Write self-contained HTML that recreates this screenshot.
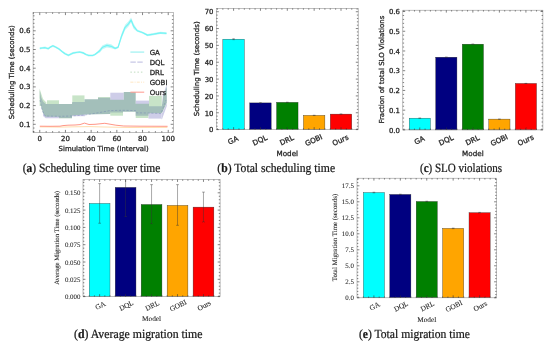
<!DOCTYPE html>
<html><head><meta charset="utf-8"><title>Figure</title>
<style>html,body{margin:0;padding:0;background:#fff;}svg{display:block;}text{text-rendering:geometricPrecision;font-variant-ligatures:none;font-kerning:normal;}text.t{stroke:#262626;stroke-width:0.28px;}text.s{stroke:#2a2a2a;stroke-width:0.08px;}text{stroke:#1a1a1a;stroke-width:0.24px;}</style>
</head><body>
<svg width="550" height="347" viewBox="0 0 550 347">
<defs><filter id="soft" x="0" y="0" width="550" height="347" filterUnits="userSpaceOnUse"><feGaussianBlur stdDeviation="0.42"/></filter></defs>
<rect width="550" height="347" fill="#fff"/>
<g filter="url(#soft)">
<rect width="550" height="347" fill="#fff"/>
<polygon points="39.8,47.3 42.0,46.9 45.1,46.6 48.2,47.6 50.5,45.9 52.9,44.7 55.5,45.9 58.9,47.8 62.0,50.4 65.0,52.6 68.4,54.2 72.8,52.1 76.0,51.4 79.7,50.9 83.1,51.8 86.0,53.4 88.3,54.2 92.6,54.4 95.0,53.4 97.8,51.2 100.0,48.5 102.6,45.2 106.9,43.4 111.2,44.3 115.2,47.3 118.1,46.1 121.6,33.3 125.1,24.7 128.5,21.2 131.1,17.4 133.7,23.8 137.2,29.6 142.3,31.4 147.5,34.0 153.6,33.1 160.5,31.7 166.5,32.2 166.5,34.4 160.5,33.9 153.6,35.3 147.5,36.2 142.3,33.6 137.2,31.8 133.7,29.0 131.1,22.6 128.5,26.4 125.1,29.9 121.6,38.5 118.1,48.3 115.2,49.5 111.2,48.3 106.9,47.4 102.6,49.2 100.0,52.5 97.8,53.4 95.0,55.6 92.6,56.6 88.3,56.4 86.0,55.6 83.1,54.0 79.7,53.1 76.0,53.6 72.8,54.3 68.4,56.4 65.0,54.8 62.0,52.6 58.9,50.0 55.5,48.1 52.9,46.9 50.5,48.1 48.2,49.8 45.1,48.8 42.0,49.1 39.8,49.5" fill="#c4f7f7" fill-opacity="1.0"/>
<polygon points="39.6,88.5 41.0,93.0 43.0,99.0 46.4,102.5 46.4,106.0 39.6,106.0" fill="#c8e4c8" fill-opacity="1.0"/>
<polygon points="47.0,100.3 59.0,100.3 59.0,110.0 47.0,110.0" fill="#c8e4c8" fill-opacity="1.0"/>
<polygon points="72.3,95.4 84.5,95.4 84.5,105.0 72.3,105.0" fill="#c8e4c8" fill-opacity="1.0"/>
<polygon points="98.0,97.1 110.3,97.1 110.3,104.0 98.0,104.0" fill="#c8e4c8" fill-opacity="1.0"/>
<polygon points="149.0,95.9 161.8,95.9 161.8,108.0 149.0,108.0" fill="#c8e4c8" fill-opacity="1.0"/>
<polygon points="110.3,92.7 123.8,92.7 123.8,101.0 110.3,101.0" fill="#cecde8" fill-opacity="1.0"/>
<polygon points="135.7,100.6 149.0,100.6 149.0,106.0 135.7,106.0" fill="#cecde8" fill-opacity="1.0"/>
<polygon points="162.6,96.0 166.8,84.3 166.8,90.0 162.6,104.0" fill="#cecde8" fill-opacity="1.0"/>
<polygon points="161.5,114.0 162.6,112.5 166.8,103.0 166.8,106.0 162.0,119.3 161.5,119.3" fill="#cecde8" fill-opacity="1.0"/>
<polygon points="43.0,110.0 45.7,113.0 59.0,113.0 59.0,118.3 45.7,118.3 43.0,116.0" fill="#cecde8" fill-opacity="1.0"/>
<polygon points="59.0,113.0 72.0,113.0 72.0,118.3 59.0,118.3" fill="#b2cdbd" fill-opacity="1.0"/>
<polygon points="72.0,112.0 85.0,112.0 85.0,116.2 72.0,116.2" fill="#cecde8" fill-opacity="1.0"/>
<polygon points="110.3,110.0 123.0,110.0 123.0,115.7 110.3,115.7" fill="#c8e4c8" fill-opacity="1.0"/>
<polygon points="135.7,112.0 148.5,112.0 148.5,118.0 135.7,118.0" fill="#c8e4c8" fill-opacity="1.0"/>
<polygon points="148.5,112.0 161.5,112.0 161.5,118.6 148.5,118.6" fill="#cecde8" fill-opacity="1.0"/>
<polygon points="39.8,90.3 41.0,97.0 43.0,101.5 45.7,104.1 72.0,104.1 72.3,101.9 84.5,101.9 84.5,99.2 98.0,99.2 98.0,97.8 110.3,97.8 110.3,99.8 123.8,99.8 123.8,91.9 135.7,91.9 135.7,103.8 149.0,103.8 149.0,106.2 161.8,106.2 163.2,96.5 166.8,86.8 166.8,102.7 162.3,112.4 161.5,113.2 148.5,113.2 148.5,115.7 135.7,115.7 135.7,111.7 123.0,111.7 123.0,112.5 110.3,112.5 110.3,114.1 98.0,114.3 85.0,114.5 72.0,115.6 72.0,118.0 59.0,118.0 59.0,116.7 45.7,116.7 43.0,113.0 41.0,106.0 39.8,98.0" fill="#a3bfba" fill-opacity="1.0"/>
<polyline points="40.0,100.0 42.0,110.0 45.0,116.0 60.0,116.3 72.0,116.0 85.0,115.0 98.0,112.8 110.0,110.6 123.0,110.3 135.5,110.6 136.0,112.8 148.0,113.0 161.0,113.6 166.0,100.0" fill="none" stroke="#6676b0" stroke-width="0.55" stroke-linejoin="round" stroke-dasharray="2.2,1.6" stroke-opacity="0.7"/>
<polyline points="39.8,126.9 60.0,127.1 75.0,126.8 90.0,126.6 100.0,126.9 130.0,127.5 167.4,127.4" fill="none" stroke="#ffd49a" stroke-width="0.8" stroke-linejoin="round" />
<polyline points="39.8,126.2 50.0,126.3 60.0,126.2 63.0,125.6 68.0,125.2 75.0,125.0 80.0,124.6 83.0,123.6 84.5,123.1 86.0,123.6 89.0,124.5 95.0,124.3 100.0,123.8 104.8,123.3 110.0,124.2 115.9,125.2 123.8,126.0 140.0,126.2 167.6,126.3" fill="none" stroke="#ff8a78" stroke-width="0.9" stroke-linejoin="round" />
<polyline points="39.8,48.4 42.0,48.0 45.1,47.7 48.2,48.7 50.5,47.0 52.9,45.8 55.5,47.0 58.9,48.9 62.0,51.5 65.0,53.7 68.4,55.3 72.8,53.2 76.0,52.5 79.7,52.0 83.1,52.9 86.0,54.5 88.3,55.3 92.6,55.5 95.0,54.5 97.8,52.3 100.0,50.5 102.6,47.2 106.9,45.4 111.2,46.3 115.2,48.4 118.1,47.2 121.6,35.9 125.1,27.3 128.5,23.8 131.1,20.0 133.7,26.4 137.2,30.7 142.3,32.5 147.5,35.1 153.6,34.2 160.5,32.8 166.5,33.3" fill="none" stroke="#74f5f5" stroke-width="1.2" stroke-linejoin="round" />
<rect x="33.1" y="12.5" width="140.20" height="120.00" fill="none" stroke="#8a8a8a" stroke-width="0.55"/>
<path d="M39.76 132.50v-2.6M39.76 12.50v2.6M65.45 132.50v-2.6M65.45 12.50v2.6M91.15 132.50v-2.6M91.15 12.50v2.6M116.84 132.50v-2.6M116.84 12.50v2.6M142.54 132.50v-2.6M142.54 12.50v2.6M168.23 132.50v-2.6M168.23 12.50v2.6" stroke="#303030" stroke-width="0.6" fill="none"/>
<path d="M33.34 132.50v-1.4M33.34 12.50v1.4M46.18 132.50v-1.4M46.18 12.50v1.4M52.61 132.50v-1.4M52.61 12.50v1.4M59.03 132.50v-1.4M59.03 12.50v1.4M71.88 132.50v-1.4M71.88 12.50v1.4M78.30 132.50v-1.4M78.30 12.50v1.4M84.72 132.50v-1.4M84.72 12.50v1.4M97.57 132.50v-1.4M97.57 12.50v1.4M104.00 132.50v-1.4M104.00 12.50v1.4M110.42 132.50v-1.4M110.42 12.50v1.4M123.27 132.50v-1.4M123.27 12.50v1.4M129.69 132.50v-1.4M129.69 12.50v1.4M136.11 132.50v-1.4M136.11 12.50v1.4M148.96 132.50v-1.4M148.96 12.50v1.4M155.38 132.50v-1.4M155.38 12.50v1.4M161.81 132.50v-1.4M161.81 12.50v1.4" stroke="#303030" stroke-width="0.6" fill="none"/>
<path d="M33.10 124.30h2.6M173.30 124.30h-2.6M33.10 105.60h2.6M173.30 105.60h-2.6M33.10 86.90h2.6M173.30 86.90h-2.6M33.10 68.20h2.6M173.30 68.20h-2.6M33.10 49.50h2.6M173.30 49.50h-2.6M33.10 30.80h2.6M173.30 30.80h-2.6" stroke="#303030" stroke-width="0.6" fill="none"/>
<path d="M33.10 131.78h1.4M173.30 131.78h-1.4M33.10 128.04h1.4M173.30 128.04h-1.4M33.10 120.56h1.4M173.30 120.56h-1.4M33.10 116.82h1.4M173.30 116.82h-1.4M33.10 113.08h1.4M173.30 113.08h-1.4M33.10 109.34h1.4M173.30 109.34h-1.4M33.10 101.86h1.4M173.30 101.86h-1.4M33.10 98.12h1.4M173.30 98.12h-1.4M33.10 94.38h1.4M173.30 94.38h-1.4M33.10 90.64h1.4M173.30 90.64h-1.4M33.10 83.16h1.4M173.30 83.16h-1.4M33.10 79.42h1.4M173.30 79.42h-1.4M33.10 75.68h1.4M173.30 75.68h-1.4M33.10 71.94h1.4M173.30 71.94h-1.4M33.10 64.46h1.4M173.30 64.46h-1.4M33.10 60.72h1.4M173.30 60.72h-1.4M33.10 56.98h1.4M173.30 56.98h-1.4M33.10 53.24h1.4M173.30 53.24h-1.4M33.10 45.76h1.4M173.30 45.76h-1.4M33.10 42.02h1.4M173.30 42.02h-1.4M33.10 38.28h1.4M173.30 38.28h-1.4M33.10 34.54h1.4M173.30 34.54h-1.4M33.10 27.06h1.4M173.30 27.06h-1.4M33.10 23.32h1.4M173.30 23.32h-1.4M33.10 19.58h1.4M173.30 19.58h-1.4M33.10 15.84h1.4M173.30 15.84h-1.4" stroke="#303030" stroke-width="0.6" fill="none"/>
<text class="t" x="30.40" y="126.85" font-family="'DejaVu Sans', 'Liberation Sans', sans-serif" font-size="7.0" text-anchor="end" fill="#262626" >0.1</text>
<text class="t" x="30.40" y="108.15" font-family="'DejaVu Sans', 'Liberation Sans', sans-serif" font-size="7.0" text-anchor="end" fill="#262626" >0.2</text>
<text class="t" x="30.40" y="89.45" font-family="'DejaVu Sans', 'Liberation Sans', sans-serif" font-size="7.0" text-anchor="end" fill="#262626" >0.3</text>
<text class="t" x="30.40" y="70.75" font-family="'DejaVu Sans', 'Liberation Sans', sans-serif" font-size="7.0" text-anchor="end" fill="#262626" >0.4</text>
<text class="t" x="30.40" y="52.05" font-family="'DejaVu Sans', 'Liberation Sans', sans-serif" font-size="7.0" text-anchor="end" fill="#262626" >0.5</text>
<text class="t" x="30.40" y="33.35" font-family="'DejaVu Sans', 'Liberation Sans', sans-serif" font-size="7.0" text-anchor="end" fill="#262626" >0.6</text>
<text class="t" x="39.76" y="141.30" font-family="'DejaVu Sans', 'Liberation Sans', sans-serif" font-size="7.0" text-anchor="middle" fill="#262626" >0</text>
<text class="t" x="65.45" y="141.30" font-family="'DejaVu Sans', 'Liberation Sans', sans-serif" font-size="7.0" text-anchor="middle" fill="#262626" >20</text>
<text class="t" x="91.15" y="141.30" font-family="'DejaVu Sans', 'Liberation Sans', sans-serif" font-size="7.0" text-anchor="middle" fill="#262626" >40</text>
<text class="t" x="116.84" y="141.30" font-family="'DejaVu Sans', 'Liberation Sans', sans-serif" font-size="7.0" text-anchor="middle" fill="#262626" >60</text>
<text class="t" x="142.54" y="141.30" font-family="'DejaVu Sans', 'Liberation Sans', sans-serif" font-size="7.0" text-anchor="middle" fill="#262626" >80</text>
<text class="t" x="168.23" y="141.30" font-family="'DejaVu Sans', 'Liberation Sans', sans-serif" font-size="7.0" text-anchor="middle" fill="#262626" >100</text>
<text class="t" x="103.60" y="151.40" font-family="'DejaVu Sans', 'Liberation Sans', sans-serif" font-size="6.9" text-anchor="middle" fill="#262626" textLength="90" lengthAdjust="spacingAndGlyphs">Simulation Time (Interval)</text>
<text class="t" x="0.00" y="0.00" font-family="'DejaVu Sans', 'Liberation Sans', sans-serif" font-size="6.9" text-anchor="middle" fill="#262626" transform="translate(14.4,72.2) rotate(-90)" textLength="94" lengthAdjust="spacingAndGlyphs">Scheduling Time (seconds)</text>
<line x1="130.4" y1="52.10" x2="144.2" y2="52.10" stroke="#b0f4f4" stroke-width="1.5" />
<text class="t" x="149.70" y="54.60" font-family="'DejaVu Sans', 'Liberation Sans', sans-serif" font-size="7.0" text-anchor="start" fill="#262626" >GA</text>
<line x1="130.4" y1="62.12" x2="144.2" y2="62.12" stroke="#c8c8e6" stroke-width="1.1" stroke-dasharray="5.4,1.5"/>
<text class="t" x="149.70" y="64.62" font-family="'DejaVu Sans', 'Liberation Sans', sans-serif" font-size="7.0" text-anchor="start" fill="#262626" >DQL</text>
<line x1="130.4" y1="72.14" x2="144.2" y2="72.14" stroke="#bfdcbf" stroke-width="1.0" stroke-dasharray="1.5,2.0"/>
<text class="t" x="149.70" y="74.64" font-family="'DejaVu Sans', 'Liberation Sans', sans-serif" font-size="7.0" text-anchor="start" fill="#262626" >DRL</text>
<line x1="130.4" y1="82.16" x2="144.2" y2="82.16" stroke="#ffe4bc" stroke-width="0.9" stroke-dasharray="3,1.2,1,1.2"/>
<text class="t" x="149.70" y="84.66" font-family="'DejaVu Sans', 'Liberation Sans', sans-serif" font-size="7.0" text-anchor="start" fill="#262626" >GOBI</text>
<line x1="130.4" y1="92.18" x2="144.2" y2="92.18" stroke="#ffa096" stroke-width="1.1" />
<text class="t" x="149.70" y="94.68" font-family="'DejaVu Sans', 'Liberation Sans', sans-serif" font-size="7.0" text-anchor="start" fill="#262626" >Ours</text>
<rect x="222.85" y="39.17" width="21.48" height="90.43" fill="#00ffff" stroke="#2a2a2a" stroke-width="0.35"/>
<rect x="249.70" y="102.91" width="21.48" height="26.69" fill="#000080" stroke="#2a2a2a" stroke-width="0.35"/>
<rect x="276.56" y="102.32" width="21.48" height="27.28" fill="#008000" stroke="#2a2a2a" stroke-width="0.35"/>
<rect x="303.41" y="115.37" width="21.48" height="14.23" fill="#ffa500" stroke="#2a2a2a" stroke-width="0.35"/>
<rect x="330.27" y="114.11" width="21.48" height="15.49" fill="#ff0000" stroke="#2a2a2a" stroke-width="0.35"/>
<path d="M233.59 39.67V38.66M232.29 39.67h2.6M232.29 38.66h2.6M260.44 103.08V102.74M259.14 103.08h2.6M259.14 102.74h2.6M287.30 102.49V102.15M286.00 102.49h2.6M286.00 102.15h2.6M314.16 115.54V115.20M312.86 115.54h2.6M312.86 115.20h2.6M341.01 114.28V113.94M339.71 114.28h2.6M339.71 113.94h2.6" stroke="#333" stroke-width="0.35" fill="none"/>
<rect x="216.4" y="8.4" width="141.80" height="121.20" fill="none" stroke="#8a8a8a" stroke-width="0.55"/>
<path d="M233.59 129.60v-2.4M233.59 8.40v2.4M260.44 129.60v-2.4M260.44 8.40v2.4M287.30 129.60v-2.4M287.30 8.40v2.4M314.16 129.60v-2.4M314.16 8.40v2.4M341.01 129.60v-2.4M341.01 8.40v2.4" stroke="#303030" stroke-width="0.6" fill="none"/>
<path d="M217.47 129.60v-1.3M217.47 8.40v1.3M222.85 129.60v-1.3M222.85 8.40v1.3M228.22 129.60v-1.3M228.22 8.40v1.3M238.96 129.60v-1.3M238.96 8.40v1.3M244.33 129.60v-1.3M244.33 8.40v1.3M249.70 129.60v-1.3M249.70 8.40v1.3M255.07 129.60v-1.3M255.07 8.40v1.3M265.82 129.60v-1.3M265.82 8.40v1.3M271.19 129.60v-1.3M271.19 8.40v1.3M276.56 129.60v-1.3M276.56 8.40v1.3M281.93 129.60v-1.3M281.93 8.40v1.3M292.67 129.60v-1.3M292.67 8.40v1.3M298.04 129.60v-1.3M298.04 8.40v1.3M303.41 129.60v-1.3M303.41 8.40v1.3M308.78 129.60v-1.3M308.78 8.40v1.3M319.53 129.60v-1.3M319.53 8.40v1.3M324.90 129.60v-1.3M324.90 8.40v1.3M330.27 129.60v-1.3M330.27 8.40v1.3M335.64 129.60v-1.3M335.64 8.40v1.3M346.38 129.60v-1.3M346.38 8.40v1.3M351.75 129.60v-1.3M351.75 8.40v1.3M357.13 129.60v-1.3M357.13 8.40v1.3" stroke="#303030" stroke-width="0.6" fill="none"/>
<path d="M216.40 129.60h2.4M358.20 129.60h-2.4M216.40 112.76h2.4M358.20 112.76h-2.4M216.40 95.92h2.4M358.20 95.92h-2.4M216.40 79.08h2.4M358.20 79.08h-2.4M216.40 62.24h2.4M358.20 62.24h-2.4M216.40 45.40h2.4M358.20 45.40h-2.4M216.40 28.56h2.4M358.20 28.56h-2.4M216.40 11.72h2.4M358.20 11.72h-2.4" stroke="#303030" stroke-width="0.6" fill="none"/>
<path d="M216.40 126.23h1.3M358.20 126.23h-1.3M216.40 122.86h1.3M358.20 122.86h-1.3M216.40 119.50h1.3M358.20 119.50h-1.3M216.40 116.13h1.3M358.20 116.13h-1.3M216.40 109.39h1.3M358.20 109.39h-1.3M216.40 106.02h1.3M358.20 106.02h-1.3M216.40 102.66h1.3M358.20 102.66h-1.3M216.40 99.29h1.3M358.20 99.29h-1.3M216.40 92.55h1.3M358.20 92.55h-1.3M216.40 89.18h1.3M358.20 89.18h-1.3M216.40 85.82h1.3M358.20 85.82h-1.3M216.40 82.45h1.3M358.20 82.45h-1.3M216.40 75.71h1.3M358.20 75.71h-1.3M216.40 72.34h1.3M358.20 72.34h-1.3M216.40 68.98h1.3M358.20 68.98h-1.3M216.40 65.61h1.3M358.20 65.61h-1.3M216.40 58.87h1.3M358.20 58.87h-1.3M216.40 55.50h1.3M358.20 55.50h-1.3M216.40 52.14h1.3M358.20 52.14h-1.3M216.40 48.77h1.3M358.20 48.77h-1.3M216.40 42.03h1.3M358.20 42.03h-1.3M216.40 38.66h1.3M358.20 38.66h-1.3M216.40 35.30h1.3M358.20 35.30h-1.3M216.40 31.93h1.3M358.20 31.93h-1.3M216.40 25.19h1.3M358.20 25.19h-1.3M216.40 21.82h1.3M358.20 21.82h-1.3M216.40 18.46h1.3M358.20 18.46h-1.3M216.40 15.09h1.3M358.20 15.09h-1.3" stroke="#303030" stroke-width="0.6" fill="none"/>
<text class="t" x="213.50" y="132.35" font-family="'DejaVu Sans', 'Liberation Sans', sans-serif" font-size="6.9" text-anchor="end" fill="#262626" >0</text>
<text class="t" x="213.50" y="115.51" font-family="'DejaVu Sans', 'Liberation Sans', sans-serif" font-size="6.9" text-anchor="end" fill="#262626" >10</text>
<text class="t" x="213.50" y="98.67" font-family="'DejaVu Sans', 'Liberation Sans', sans-serif" font-size="6.9" text-anchor="end" fill="#262626" >20</text>
<text class="t" x="213.50" y="81.83" font-family="'DejaVu Sans', 'Liberation Sans', sans-serif" font-size="6.9" text-anchor="end" fill="#262626" >30</text>
<text class="t" x="213.50" y="64.99" font-family="'DejaVu Sans', 'Liberation Sans', sans-serif" font-size="6.9" text-anchor="end" fill="#262626" >40</text>
<text class="t" x="213.50" y="48.15" font-family="'DejaVu Sans', 'Liberation Sans', sans-serif" font-size="6.9" text-anchor="end" fill="#262626" >50</text>
<text class="t" x="213.50" y="31.31" font-family="'DejaVu Sans', 'Liberation Sans', sans-serif" font-size="6.9" text-anchor="end" fill="#262626" >60</text>
<text class="t" x="213.50" y="14.47" font-family="'DejaVu Sans', 'Liberation Sans', sans-serif" font-size="6.9" text-anchor="end" fill="#262626" >70</text>
<text class="t" x="0.00" y="0.00" font-family="'DejaVu Sans', 'Liberation Sans', sans-serif" font-size="7.2" text-anchor="middle" fill="#262626" transform="translate(234.09,142.50) rotate(-25)">GA</text>
<text class="t" x="0.00" y="0.00" font-family="'DejaVu Sans', 'Liberation Sans', sans-serif" font-size="7.2" text-anchor="middle" fill="#262626" transform="translate(260.94,142.50) rotate(-25)">DQL</text>
<text class="t" x="0.00" y="0.00" font-family="'DejaVu Sans', 'Liberation Sans', sans-serif" font-size="7.2" text-anchor="middle" fill="#262626" transform="translate(287.80,142.50) rotate(-25)">DRL</text>
<text class="t" x="0.00" y="0.00" font-family="'DejaVu Sans', 'Liberation Sans', sans-serif" font-size="7.2" text-anchor="middle" fill="#262626" transform="translate(314.66,142.50) rotate(-25)">GOBI</text>
<text class="t" x="0.00" y="0.00" font-family="'DejaVu Sans', 'Liberation Sans', sans-serif" font-size="7.2" text-anchor="middle" fill="#262626" transform="translate(341.51,142.50) rotate(-25)">Ours</text>
<text class="t" x="287.30" y="155.80" font-family="'DejaVu Sans', 'Liberation Sans', sans-serif" font-size="7.2" text-anchor="middle" fill="#262626" >Model</text>
<text class="t" x="0.00" y="0.00" font-family="'DejaVu Sans', 'Liberation Sans', sans-serif" font-size="6.9" text-anchor="middle" fill="#262626" transform="translate(198.6,68.8) rotate(-90)" textLength="95" lengthAdjust="spacingAndGlyphs">Scheduling Time (seconds)</text>
<rect x="409.17" y="118.16" width="21.23" height="11.74" fill="#00ffff" stroke="#2a2a2a" stroke-width="0.35"/>
<rect x="435.70" y="57.19" width="21.23" height="72.71" fill="#000080" stroke="#2a2a2a" stroke-width="0.35"/>
<rect x="462.24" y="44.17" width="21.23" height="85.73" fill="#008000" stroke="#2a2a2a" stroke-width="0.35"/>
<rect x="488.77" y="119.11" width="21.23" height="10.79" fill="#ffa500" stroke="#2a2a2a" stroke-width="0.35"/>
<rect x="515.30" y="83.44" width="21.23" height="46.46" fill="#ff0000" stroke="#2a2a2a" stroke-width="0.35"/>
<path d="M419.78 118.26V118.06M418.48 118.26h2.6M418.48 118.06h2.6M446.32 57.29V57.10M445.02 57.29h2.6M445.02 57.10h2.6M472.85 44.27V44.07M471.55 44.27h2.6M471.55 44.07h2.6M499.38 119.25V119.05M498.08 119.25h2.6M498.08 119.05h2.6M525.92 83.53V83.34M524.62 83.53h2.6M524.62 83.34h2.6" stroke="#333" stroke-width="0.35" fill="none"/>
<rect x="402.8" y="10.2" width="140.10" height="119.70" fill="none" stroke="#8a8a8a" stroke-width="0.55"/>
<path d="M419.78 129.90v-2.4M419.78 10.20v2.4M446.32 129.90v-2.4M446.32 10.20v2.4M472.85 129.90v-2.4M472.85 10.20v2.4M499.38 129.90v-2.4M499.38 10.20v2.4M525.92 129.90v-2.4M525.92 10.20v2.4" stroke="#303030" stroke-width="0.6" fill="none"/>
<path d="M403.86 129.90v-1.3M403.86 10.20v1.3M409.17 129.90v-1.3M409.17 10.20v1.3M414.48 129.90v-1.3M414.48 10.20v1.3M425.09 129.90v-1.3M425.09 10.20v1.3M430.40 129.90v-1.3M430.40 10.20v1.3M435.70 129.90v-1.3M435.70 10.20v1.3M441.01 129.90v-1.3M441.01 10.20v1.3M451.62 129.90v-1.3M451.62 10.20v1.3M456.93 129.90v-1.3M456.93 10.20v1.3M462.24 129.90v-1.3M462.24 10.20v1.3M467.54 129.90v-1.3M467.54 10.20v1.3M478.16 129.90v-1.3M478.16 10.20v1.3M483.46 129.90v-1.3M483.46 10.20v1.3M488.77 129.90v-1.3M488.77 10.20v1.3M494.08 129.90v-1.3M494.08 10.20v1.3M504.69 129.90v-1.3M504.69 10.20v1.3M510.00 129.90v-1.3M510.00 10.20v1.3M515.30 129.90v-1.3M515.30 10.20v1.3M520.61 129.90v-1.3M520.61 10.20v1.3M531.22 129.90v-1.3M531.22 10.20v1.3M536.53 129.90v-1.3M536.53 10.20v1.3M541.84 129.90v-1.3M541.84 10.20v1.3" stroke="#303030" stroke-width="0.6" fill="none"/>
<path d="M402.80 129.90h2.4M542.90 129.90h-2.4M402.80 110.17h2.4M542.90 110.17h-2.4M402.80 90.44h2.4M542.90 90.44h-2.4M402.80 70.71h2.4M542.90 70.71h-2.4M402.80 50.98h2.4M542.90 50.98h-2.4M402.80 31.25h2.4M542.90 31.25h-2.4M402.80 11.52h2.4M542.90 11.52h-2.4" stroke="#303030" stroke-width="0.6" fill="none"/>
<path d="M402.80 125.95h1.3M542.90 125.95h-1.3M402.80 122.01h1.3M542.90 122.01h-1.3M402.80 118.06h1.3M542.90 118.06h-1.3M402.80 114.12h1.3M542.90 114.12h-1.3M402.80 106.22h1.3M542.90 106.22h-1.3M402.80 102.28h1.3M542.90 102.28h-1.3M402.80 98.33h1.3M542.90 98.33h-1.3M402.80 94.39h1.3M542.90 94.39h-1.3M402.80 86.49h1.3M542.90 86.49h-1.3M402.80 82.55h1.3M542.90 82.55h-1.3M402.80 78.60h1.3M542.90 78.60h-1.3M402.80 74.66h1.3M542.90 74.66h-1.3M402.80 66.76h1.3M542.90 66.76h-1.3M402.80 62.82h1.3M542.90 62.82h-1.3M402.80 58.87h1.3M542.90 58.87h-1.3M402.80 54.93h1.3M542.90 54.93h-1.3M402.80 47.03h1.3M542.90 47.03h-1.3M402.80 43.09h1.3M542.90 43.09h-1.3M402.80 39.14h1.3M542.90 39.14h-1.3M402.80 35.20h1.3M542.90 35.20h-1.3M402.80 27.30h1.3M542.90 27.30h-1.3M402.80 23.36h1.3M542.90 23.36h-1.3M402.80 19.41h1.3M542.90 19.41h-1.3M402.80 15.47h1.3M542.90 15.47h-1.3" stroke="#303030" stroke-width="0.6" fill="none"/>
<text class="t" x="399.90" y="132.50" font-family="'DejaVu Sans', 'Liberation Sans', sans-serif" font-size="6.9" text-anchor="end" fill="#262626" >0.0</text>
<text class="t" x="399.90" y="112.77" font-family="'DejaVu Sans', 'Liberation Sans', sans-serif" font-size="6.9" text-anchor="end" fill="#262626" >0.1</text>
<text class="t" x="399.90" y="93.04" font-family="'DejaVu Sans', 'Liberation Sans', sans-serif" font-size="6.9" text-anchor="end" fill="#262626" >0.2</text>
<text class="t" x="399.90" y="73.31" font-family="'DejaVu Sans', 'Liberation Sans', sans-serif" font-size="6.9" text-anchor="end" fill="#262626" >0.3</text>
<text class="t" x="399.90" y="53.58" font-family="'DejaVu Sans', 'Liberation Sans', sans-serif" font-size="6.9" text-anchor="end" fill="#262626" >0.4</text>
<text class="t" x="399.90" y="33.85" font-family="'DejaVu Sans', 'Liberation Sans', sans-serif" font-size="6.9" text-anchor="end" fill="#262626" >0.5</text>
<text class="t" x="399.90" y="14.12" font-family="'DejaVu Sans', 'Liberation Sans', sans-serif" font-size="6.9" text-anchor="end" fill="#262626" >0.6</text>
<text class="t" x="0.00" y="0.00" font-family="'DejaVu Sans', 'Liberation Sans', sans-serif" font-size="7.2" text-anchor="middle" fill="#262626" transform="translate(420.58,142.50) rotate(-25)">GA</text>
<text class="t" x="0.00" y="0.00" font-family="'DejaVu Sans', 'Liberation Sans', sans-serif" font-size="7.2" text-anchor="middle" fill="#262626" transform="translate(447.12,142.50) rotate(-25)">DQL</text>
<text class="t" x="0.00" y="0.00" font-family="'DejaVu Sans', 'Liberation Sans', sans-serif" font-size="7.2" text-anchor="middle" fill="#262626" transform="translate(473.65,142.50) rotate(-25)">DRL</text>
<text class="t" x="0.00" y="0.00" font-family="'DejaVu Sans', 'Liberation Sans', sans-serif" font-size="7.2" text-anchor="middle" fill="#262626" transform="translate(500.18,142.50) rotate(-25)">GOBI</text>
<text class="t" x="0.00" y="0.00" font-family="'DejaVu Sans', 'Liberation Sans', sans-serif" font-size="7.2" text-anchor="middle" fill="#262626" transform="translate(526.72,142.50) rotate(-25)">Ours</text>
<text class="t" x="472.85" y="156.00" font-family="'DejaVu Sans', 'Liberation Sans', sans-serif" font-size="7.2" text-anchor="middle" fill="#262626" >Model</text>
<text class="t" x="0.00" y="0.00" font-family="'DejaVu Sans', 'Liberation Sans', sans-serif" font-size="6.9" text-anchor="middle" fill="#262626" transform="translate(384.0,69.6) rotate(-90)" textLength="108" lengthAdjust="spacingAndGlyphs">Fraction of total SLO Violations</text>
<defs><clipPath id="cd"><rect x="83" y="179.5" width="137.1" height="117"/></clipPath></defs>
<rect x="89.23" y="203.46" width="20.77" height="93.14" fill="#00ffff" stroke="#2a2a2a" stroke-width="0.35"/>
<rect x="115.20" y="187.40" width="20.77" height="109.20" fill="#000080" stroke="#2a2a2a" stroke-width="0.35"/>
<rect x="141.16" y="204.49" width="20.77" height="92.11" fill="#008000" stroke="#2a2a2a" stroke-width="0.35"/>
<rect x="167.13" y="205.39" width="20.77" height="91.21" fill="#ffa500" stroke="#2a2a2a" stroke-width="0.35"/>
<rect x="193.10" y="207.12" width="20.77" height="89.48" fill="#ff0000" stroke="#2a2a2a" stroke-width="0.35"/>
<path d="M99.62 223.25V183.60M98.22 223.25h2.8M98.22 183.60h2.8M125.58 216.54V172.04M124.18 216.54h2.8M124.18 172.04h2.8M151.55 223.59V184.63M150.15 223.59h2.8M150.15 184.63h2.8M177.52 225.32V184.63M176.12 225.32h2.8M176.12 184.63h2.8M203.48 221.86V192.11M202.08 221.86h2.8M202.08 192.11h2.8" stroke="#333" stroke-width="0.42" fill="none" clip-path="url(#cd)"/>
<rect x="83.0" y="179.5" width="137.10" height="117.10" fill="none" stroke="#8a8a8a" stroke-width="0.55"/>
<path d="M99.62 296.60v-2.4M99.62 179.50v2.4M125.58 296.60v-2.4M125.58 179.50v2.4M151.55 296.60v-2.4M151.55 179.50v2.4M177.52 296.60v-2.4M177.52 179.50v2.4M203.48 296.60v-2.4M203.48 179.50v2.4" stroke="#303030" stroke-width="0.6" fill="none"/>
<path d="M84.04 296.60v-1.3M84.04 179.50v1.3M89.23 296.60v-1.3M89.23 179.50v1.3M94.43 296.60v-1.3M94.43 179.50v1.3M104.81 296.60v-1.3M104.81 179.50v1.3M110.00 296.60v-1.3M110.00 179.50v1.3M115.20 296.60v-1.3M115.20 179.50v1.3M120.39 296.60v-1.3M120.39 179.50v1.3M130.78 296.60v-1.3M130.78 179.50v1.3M135.97 296.60v-1.3M135.97 179.50v1.3M141.16 296.60v-1.3M141.16 179.50v1.3M146.36 296.60v-1.3M146.36 179.50v1.3M156.74 296.60v-1.3M156.74 179.50v1.3M161.94 296.60v-1.3M161.94 179.50v1.3M167.13 296.60v-1.3M167.13 179.50v1.3M172.32 296.60v-1.3M172.32 179.50v1.3M182.71 296.60v-1.3M182.71 179.50v1.3M187.90 296.60v-1.3M187.90 179.50v1.3M193.10 296.60v-1.3M193.10 179.50v1.3M198.29 296.60v-1.3M198.29 179.50v1.3M208.67 296.60v-1.3M208.67 179.50v1.3M213.87 296.60v-1.3M213.87 179.50v1.3M219.06 296.60v-1.3M219.06 179.50v1.3" stroke="#303030" stroke-width="0.6" fill="none"/>
<path d="M83.00 296.60h2.4M220.10 296.60h-2.4M83.00 279.30h2.4M220.10 279.30h-2.4M83.00 262.00h2.4M220.10 262.00h-2.4M83.00 244.70h2.4M220.10 244.70h-2.4M83.00 227.40h2.4M220.10 227.40h-2.4M83.00 210.10h2.4M220.10 210.10h-2.4M83.00 192.80h2.4M220.10 192.80h-2.4" stroke="#303030" stroke-width="0.6" fill="none"/>
<path d="M83.00 293.14h1.3M220.10 293.14h-1.3M83.00 289.68h1.3M220.10 289.68h-1.3M83.00 286.22h1.3M220.10 286.22h-1.3M83.00 282.76h1.3M220.10 282.76h-1.3M83.00 275.84h1.3M220.10 275.84h-1.3M83.00 272.38h1.3M220.10 272.38h-1.3M83.00 268.92h1.3M220.10 268.92h-1.3M83.00 265.46h1.3M220.10 265.46h-1.3M83.00 258.54h1.3M220.10 258.54h-1.3M83.00 255.08h1.3M220.10 255.08h-1.3M83.00 251.62h1.3M220.10 251.62h-1.3M83.00 248.16h1.3M220.10 248.16h-1.3M83.00 241.24h1.3M220.10 241.24h-1.3M83.00 237.78h1.3M220.10 237.78h-1.3M83.00 234.32h1.3M220.10 234.32h-1.3M83.00 230.86h1.3M220.10 230.86h-1.3M83.00 223.94h1.3M220.10 223.94h-1.3M83.00 220.48h1.3M220.10 220.48h-1.3M83.00 217.02h1.3M220.10 217.02h-1.3M83.00 213.56h1.3M220.10 213.56h-1.3M83.00 206.64h1.3M220.10 206.64h-1.3M83.00 203.18h1.3M220.10 203.18h-1.3M83.00 199.72h1.3M220.10 199.72h-1.3M83.00 196.26h1.3M220.10 196.26h-1.3M83.00 189.34h1.3M220.10 189.34h-1.3M83.00 185.88h1.3M220.10 185.88h-1.3M83.00 182.42h1.3M220.10 182.42h-1.3" stroke="#303030" stroke-width="0.6" fill="none"/>
<text class="s" x="80.40" y="299.20" font-family="'Liberation Serif', 'DejaVu Serif', serif" font-size="6.9" text-anchor="end" fill="#262626" >0.000</text>
<text class="s" x="80.40" y="281.90" font-family="'Liberation Serif', 'DejaVu Serif', serif" font-size="6.9" text-anchor="end" fill="#262626" >0.025</text>
<text class="s" x="80.40" y="264.60" font-family="'Liberation Serif', 'DejaVu Serif', serif" font-size="6.9" text-anchor="end" fill="#262626" >0.050</text>
<text class="s" x="80.40" y="247.30" font-family="'Liberation Serif', 'DejaVu Serif', serif" font-size="6.9" text-anchor="end" fill="#262626" >0.075</text>
<text class="s" x="80.40" y="230.00" font-family="'Liberation Serif', 'DejaVu Serif', serif" font-size="6.9" text-anchor="end" fill="#262626" >0.100</text>
<text class="s" x="80.40" y="212.70" font-family="'Liberation Serif', 'DejaVu Serif', serif" font-size="6.9" text-anchor="end" fill="#262626" >0.125</text>
<text class="s" x="80.40" y="195.40" font-family="'Liberation Serif', 'DejaVu Serif', serif" font-size="6.9" text-anchor="end" fill="#262626" >0.150</text>
<text class="s" x="0.00" y="0.00" font-family="'Liberation Serif', 'DejaVu Serif', serif" font-size="7.3" text-anchor="middle" fill="#262626" transform="translate(101.42,307.70) rotate(-27)">GA</text>
<text class="s" x="0.00" y="0.00" font-family="'Liberation Serif', 'DejaVu Serif', serif" font-size="7.3" text-anchor="middle" fill="#262626" transform="translate(127.38,307.70) rotate(-27)">DQL</text>
<text class="s" x="0.00" y="0.00" font-family="'Liberation Serif', 'DejaVu Serif', serif" font-size="7.3" text-anchor="middle" fill="#262626" transform="translate(153.35,307.70) rotate(-27)">DRL</text>
<text class="s" x="0.00" y="0.00" font-family="'Liberation Serif', 'DejaVu Serif', serif" font-size="7.3" text-anchor="middle" fill="#262626" transform="translate(179.32,307.70) rotate(-27)">GOBI</text>
<text class="s" x="0.00" y="0.00" font-family="'Liberation Serif', 'DejaVu Serif', serif" font-size="7.3" text-anchor="middle" fill="#262626" transform="translate(205.28,307.70) rotate(-27)">Ours</text>
<text class="s" x="151.55" y="320.90" font-family="'Liberation Serif', 'DejaVu Serif', serif" font-size="7.3" text-anchor="middle" fill="#262626" >Model</text>
<text class="s" x="0.00" y="0.00" font-family="'Liberation Serif', 'DejaVu Serif', serif" font-size="6.7" text-anchor="middle" fill="#262626" transform="translate(59.4,237.9) rotate(-90)" textLength="93.8" lengthAdjust="spacingAndGlyphs">Average Migration Time (seconds)</text>
<rect x="363.34" y="192.52" width="21.14" height="105.28" fill="#00ffff" stroke="#2a2a2a" stroke-width="0.35"/>
<rect x="389.76" y="194.44" width="21.14" height="103.36" fill="#000080" stroke="#2a2a2a" stroke-width="0.35"/>
<rect x="416.18" y="201.48" width="21.14" height="96.32" fill="#008000" stroke="#2a2a2a" stroke-width="0.35"/>
<rect x="442.60" y="228.36" width="21.14" height="69.44" fill="#ffa500" stroke="#2a2a2a" stroke-width="0.35"/>
<rect x="469.02" y="212.68" width="21.14" height="85.12" fill="#ff0000" stroke="#2a2a2a" stroke-width="0.35"/>
<path d="M373.91 192.84V192.20M372.61 192.84h2.6M372.61 192.20h2.6M400.33 194.76V194.12M399.03 194.76h2.6M399.03 194.12h2.6M426.75 201.80V201.16M425.45 201.80h2.6M425.45 201.16h2.6M453.17 228.68V228.04M451.87 228.68h2.6M451.87 228.04h2.6M479.59 213.00V212.36M478.29 213.00h2.6M478.29 212.36h2.6" stroke="#333" stroke-width="0.35" fill="none"/>
<rect x="357.0" y="178.2" width="139.50" height="119.60" fill="none" stroke="#8a8a8a" stroke-width="0.55"/>
<path d="M373.91 297.80v-2.4M373.91 178.20v2.4M400.33 297.80v-2.4M400.33 178.20v2.4M426.75 297.80v-2.4M426.75 178.20v2.4M453.17 297.80v-2.4M453.17 178.20v2.4M479.59 297.80v-2.4M479.59 178.20v2.4" stroke="#303030" stroke-width="0.6" fill="none"/>
<path d="M358.06 297.80v-1.3M358.06 178.20v1.3M363.34 297.80v-1.3M363.34 178.20v1.3M368.62 297.80v-1.3M368.62 178.20v1.3M379.19 297.80v-1.3M379.19 178.20v1.3M384.48 297.80v-1.3M384.48 178.20v1.3M389.76 297.80v-1.3M389.76 178.20v1.3M395.05 297.80v-1.3M395.05 178.20v1.3M405.61 297.80v-1.3M405.61 178.20v1.3M410.90 297.80v-1.3M410.90 178.20v1.3M416.18 297.80v-1.3M416.18 178.20v1.3M421.47 297.80v-1.3M421.47 178.20v1.3M432.03 297.80v-1.3M432.03 178.20v1.3M437.32 297.80v-1.3M437.32 178.20v1.3M442.60 297.80v-1.3M442.60 178.20v1.3M447.89 297.80v-1.3M447.89 178.20v1.3M458.45 297.80v-1.3M458.45 178.20v1.3M463.74 297.80v-1.3M463.74 178.20v1.3M469.02 297.80v-1.3M469.02 178.20v1.3M474.31 297.80v-1.3M474.31 178.20v1.3M484.88 297.80v-1.3M484.88 178.20v1.3M490.16 297.80v-1.3M490.16 178.20v1.3M495.44 297.80v-1.3M495.44 178.20v1.3" stroke="#303030" stroke-width="0.6" fill="none"/>
<path d="M357.00 297.80h2.4M496.50 297.80h-2.4M357.00 281.80h2.4M496.50 281.80h-2.4M357.00 265.80h2.4M496.50 265.80h-2.4M357.00 249.80h2.4M496.50 249.80h-2.4M357.00 233.80h2.4M496.50 233.80h-2.4M357.00 217.80h2.4M496.50 217.80h-2.4M357.00 201.80h2.4M496.50 201.80h-2.4M357.00 185.80h2.4M496.50 185.80h-2.4" stroke="#303030" stroke-width="0.6" fill="none"/>
<path d="M357.00 294.60h1.3M496.50 294.60h-1.3M357.00 291.40h1.3M496.50 291.40h-1.3M357.00 288.20h1.3M496.50 288.20h-1.3M357.00 285.00h1.3M496.50 285.00h-1.3M357.00 278.60h1.3M496.50 278.60h-1.3M357.00 275.40h1.3M496.50 275.40h-1.3M357.00 272.20h1.3M496.50 272.20h-1.3M357.00 269.00h1.3M496.50 269.00h-1.3M357.00 262.60h1.3M496.50 262.60h-1.3M357.00 259.40h1.3M496.50 259.40h-1.3M357.00 256.20h1.3M496.50 256.20h-1.3M357.00 253.00h1.3M496.50 253.00h-1.3M357.00 246.60h1.3M496.50 246.60h-1.3M357.00 243.40h1.3M496.50 243.40h-1.3M357.00 240.20h1.3M496.50 240.20h-1.3M357.00 237.00h1.3M496.50 237.00h-1.3M357.00 230.60h1.3M496.50 230.60h-1.3M357.00 227.40h1.3M496.50 227.40h-1.3M357.00 224.20h1.3M496.50 224.20h-1.3M357.00 221.00h1.3M496.50 221.00h-1.3M357.00 214.60h1.3M496.50 214.60h-1.3M357.00 211.40h1.3M496.50 211.40h-1.3M357.00 208.20h1.3M496.50 208.20h-1.3M357.00 205.00h1.3M496.50 205.00h-1.3M357.00 198.60h1.3M496.50 198.60h-1.3M357.00 195.40h1.3M496.50 195.40h-1.3M357.00 192.20h1.3M496.50 192.20h-1.3M357.00 189.00h1.3M496.50 189.00h-1.3M357.00 182.60h1.3M496.50 182.60h-1.3M357.00 179.40h1.3M496.50 179.40h-1.3" stroke="#303030" stroke-width="0.6" fill="none"/>
<text class="s" x="353.90" y="300.40" font-family="'Liberation Serif', 'DejaVu Serif', serif" font-size="6.9" text-anchor="end" fill="#262626" >0.0</text>
<text class="s" x="353.90" y="284.40" font-family="'Liberation Serif', 'DejaVu Serif', serif" font-size="6.9" text-anchor="end" fill="#262626" >2.5</text>
<text class="s" x="353.90" y="268.40" font-family="'Liberation Serif', 'DejaVu Serif', serif" font-size="6.9" text-anchor="end" fill="#262626" >5.0</text>
<text class="s" x="353.90" y="252.40" font-family="'Liberation Serif', 'DejaVu Serif', serif" font-size="6.9" text-anchor="end" fill="#262626" >7.5</text>
<text class="s" x="353.90" y="236.40" font-family="'Liberation Serif', 'DejaVu Serif', serif" font-size="6.9" text-anchor="end" fill="#262626" >10.0</text>
<text class="s" x="353.90" y="220.40" font-family="'Liberation Serif', 'DejaVu Serif', serif" font-size="6.9" text-anchor="end" fill="#262626" >12.5</text>
<text class="s" x="353.90" y="204.40" font-family="'Liberation Serif', 'DejaVu Serif', serif" font-size="6.9" text-anchor="end" fill="#262626" >15.0</text>
<text class="s" x="353.90" y="188.40" font-family="'Liberation Serif', 'DejaVu Serif', serif" font-size="6.9" text-anchor="end" fill="#262626" >17.5</text>
<text class="s" x="0.00" y="0.00" font-family="'Liberation Serif', 'DejaVu Serif', serif" font-size="7.3" text-anchor="middle" fill="#262626" transform="translate(375.71,308.30) rotate(-27)">GA</text>
<text class="s" x="0.00" y="0.00" font-family="'Liberation Serif', 'DejaVu Serif', serif" font-size="7.3" text-anchor="middle" fill="#262626" transform="translate(402.13,308.30) rotate(-27)">DQL</text>
<text class="s" x="0.00" y="0.00" font-family="'Liberation Serif', 'DejaVu Serif', serif" font-size="7.3" text-anchor="middle" fill="#262626" transform="translate(428.55,308.30) rotate(-27)">DRL</text>
<text class="s" x="0.00" y="0.00" font-family="'Liberation Serif', 'DejaVu Serif', serif" font-size="7.3" text-anchor="middle" fill="#262626" transform="translate(454.97,308.30) rotate(-27)">GOBI</text>
<text class="s" x="0.00" y="0.00" font-family="'Liberation Serif', 'DejaVu Serif', serif" font-size="7.3" text-anchor="middle" fill="#262626" transform="translate(481.39,308.30) rotate(-27)">Ours</text>
<text class="s" x="426.75" y="321.60" font-family="'Liberation Serif', 'DejaVu Serif', serif" font-size="7.3" text-anchor="middle" fill="#262626" >Model</text>
<text class="s" x="0.00" y="0.00" font-family="'Liberation Serif', 'DejaVu Serif', serif" font-size="6.9" text-anchor="middle" fill="#262626" transform="translate(336.9,237.5) rotate(-90)" textLength="87.5" lengthAdjust="spacingAndGlyphs">Total Migration Time (seconds)</text>
<text x="22.7" y="172.2" font-family="'Liberation Serif', 'DejaVu Serif', serif" font-size="12.6" fill="#1a1a1a" textLength="137.7" lengthAdjust="spacingAndGlyphs">(<tspan font-weight="bold">a</tspan>) Scheduling time over time</text>
<text x="217.3" y="171.6" font-family="'Liberation Serif', 'DejaVu Serif', serif" font-size="12.6" fill="#1a1a1a" textLength="117.8" lengthAdjust="spacingAndGlyphs">(<tspan font-weight="bold">b</tspan>) Total scheduling time</text>
<text x="420.0" y="171.6" font-family="'Liberation Serif', 'DejaVu Serif', serif" font-size="12.6" fill="#1a1a1a" textLength="82.0" lengthAdjust="spacingAndGlyphs">(<tspan font-weight="bold">c</tspan>) SLO violations</text>
<text x="74.0" y="337.7" font-family="'Liberation Serif', 'DejaVu Serif', serif" font-size="12.6" fill="#1a1a1a" textLength="128.5" lengthAdjust="spacingAndGlyphs">(<tspan font-weight="bold">d</tspan>) Average migration time</text>
<text x="358.9" y="337.7" font-family="'Liberation Serif', 'DejaVu Serif', serif" font-size="12.6" fill="#1a1a1a" textLength="111.1" lengthAdjust="spacingAndGlyphs">(<tspan font-weight="bold">e</tspan>) Total migration time</text>
</g>
</svg>
</body></html>
